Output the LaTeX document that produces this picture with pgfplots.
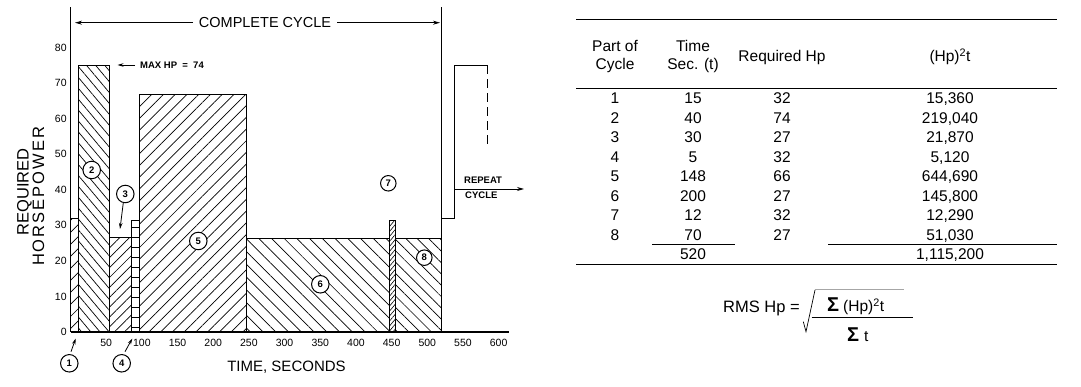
\documentclass[border=0pt]{standalone}
\usepackage{pgfplots}
\pgfplotsset{compat=1.18}
\usepackage{fontspec}
\setmainfont{Liberation Sans}
\newfontfamily\widefont[LetterSpace=12]{Liberation Sans}
\usetikzlibrary{patterns.meta,arrows.meta}
\newcommand{\fs}[1]{\fontsize{#1}{#1}\selectfont}
\begin{document}
\begin{tikzpicture}
\path[use as bounding box] (0,0) rectangle (1081pt,387pt);
\begin{axis}[
  at={(70.5pt,55pt)}, anchor=south west,
  x=0.7136pt, y=3.554pt,
  xmin=0, xmax=614, ymin=0, ymax=91.4,
  axis x line=bottom, axis y line=left,
  axis line style={line width=1.2pt,-},
  xtick={50,100,...,600}, ytick={0,10,...,80},
  major tick length=0pt,
  tick label style={font=\fs{10.5}},
  xticklabel style={anchor=north, inner sep=0pt, yshift=-7.3pt},
  yticklabel style={anchor=east, inner sep=0pt, xshift=-3.7pt},
  /pgf/number format/assume math mode=true,
  clip=false,
]
% bar 1
\addplot[draw=black, line width=1pt, pattern={Lines[angle=45,distance=8.5pt,line width=0.7pt]}] coordinates {(0,0) (0,32) (11,32) (11,0)} --cycle;
% bar 2
\addplot[draw=black, line width=1pt, pattern={Lines[angle=-50,distance=7pt,line width=0.7pt]}] coordinates {(11,0) (11,75) (55,75) (55,0)} --cycle;
% bar 3
\addplot[draw=black, line width=1pt, pattern={Lines[angle=45,distance=7pt,line width=0.7pt]}] coordinates {(55,0) (55,26.6) (86,26.6) (86,0)} --cycle;
% bar 4
\addplot[draw=black, line width=1pt, pattern={Lines[angle=0,distance=10pt,line width=0.7pt]}] coordinates {(86,0) (86,31.5) (97,31.5) (97,0)} --cycle;
% bar 5
\addplot[draw=black, line width=1pt, pattern={Lines[angle=45,distance=8.3pt,line width=0.7pt]}] coordinates {(97,0) (97,66.8) (247,66.8) (247,0)} --cycle;
% bar 6
\addplot[draw=black, line width=1pt, pattern={Lines[angle=-45,distance=9pt,line width=0.7pt]}] coordinates {(247,0) (247,26.2) (447,26.2) (447,0)} --cycle;
% bar 7
\addplot[draw=black, line width=1pt, pattern={Lines[angle=50,distance=3.2pt,line width=0.6pt]}] coordinates {(447,0) (447,31.3) (455,31.3) (455,0)} --cycle;
% bar 8
\addplot[draw=black, line width=1pt, pattern={Lines[angle=-45,distance=8pt,line width=0.7pt]}] coordinates {(455,0) (455,26.2) (520,26.2) (520,0)} --cycle;
% cycle boundary and repeat
\addplot[black, line width=1.2pt] coordinates {(520,0) (520,91.4)};
\addplot[black, line width=1pt] coordinates {(520,32) (538.8,32) (538.8,75) (585,75)};
\addplot[black, line width=1pt, dash pattern=on 9pt off 5pt] coordinates {(585,75) (585,52)};
\end{axis}
\begin{scope}[x=1pt,y=-1pt,yshift=387pt]
% axis titles
\node[font=\fs{15}, inner sep=0pt] at (286.5,367) {TIME, SECONDS};
\node[font=\fs{16.5}, inner sep=0pt, rotate=90] at (24.5,192) {REQUIRED};
\node[font=\widefont\fs{16.5}, inner sep=0pt, rotate=90] at (38.5,196.5) {HORSEPOWER};
% complete cycle
\node[font=\fs{14.5}, inner sep=0pt] at (265,23) {COMPLETE CYCLE};
\draw[line width=0.8pt, -{Stealth[length=7pt,width=4pt]}] (193,22.7) -- (75,22.7);
\draw[line width=0.8pt, -{Stealth[length=7pt,width=4pt]}] (337,22.7) -- (440,22.7);
% max hp
\draw[line width=0.8pt, -{Stealth[length=6pt,width=3.5pt]}] (135,65) -- (117.5,65);
\node[font=\fs{9.5}\bfseries, inner sep=0pt, anchor=west] at (140,65) {MAX HP\ \ =\ \ 74};
% repeat
\node[font=\fs{9.5}\bfseries, inner sep=0pt, anchor=west] at (464,180.7) {REPEAT};
\node[font=\fs{9.5}\bfseries, inner sep=0pt, anchor=west] at (465,195) {CYCLE};
\draw[line width=0.8pt, -{Stealth[length=7pt,width=4pt]}] (455,189) -- (524,189);
% circled numbers
\tikzset{cn/.style={circle, draw, line width=1pt, fill=white, inner sep=0pt, minimum size=17.5pt, font=\fs{9.5}\bfseries}}
\node[cn] at (69.3,363.3) {1};
\node[cn] at (91.7,170) {2};
\node[cn] at (125.3,194) {3};
\node[cn] at (121.7,363.3) {4};
\node[cn] at (198.3,241) {5};
\node[cn] at (320.3,284.3) {6};
\node[cn, minimum size=15.5pt] at (388.3,183.3) {7};
\node[cn, minimum size=15.5pt] at (424.3,257.7) {8};
\draw[line width=0.8pt, -{Stealth[length=6pt,width=3.5pt]}] (71,351.7) -- (75.7,338.5);
\draw[line width=0.8pt, -{Stealth[length=6pt,width=3.5pt]}] (125,351.7) -- (132.3,338.5);
\draw[line width=0.8pt, -{Stealth[length=6pt,width=3.5pt]}] (123.3,202.7) -- (120,229);
% table
\draw[line width=0.9pt] (576,19) -- (1057,19);
\draw[line width=0.9pt] (576,88.3) -- (1057,88.3);
\draw[line width=0.9pt] (576,264.3) -- (1057,264.3);
\draw[line width=0.9pt] (652,244.3) -- (735,244.3);
\draw[line width=0.9pt] (828,244.3) -- (1057,244.3);
\tikzset{tc/.style={font=\fs{15.5}, inner sep=0pt, anchor=base}}
\node[tc] at (615,51.7) {Part of};
\node[tc] at (615,69.3) {Cycle};
\node[tc] at (693,51.7) {Time};
\node[tc] at (693,69.3) {Sec. (t)};
\node[tc] at (782,61.7) {Required Hp};
\node[tc] at (950,61.7) {(Hp)\textsuperscript{2}t};
\foreach \p/\t/\h/\v [count=\i from 0] in {1/15/32/{15,360},2/40/74/{219,040},3/30/27/{21,870},4/5/32/{5,120},5/148/66/{644,690},6/200/27/{145,800},7/12/32/{12,290},8/70/27/{51,030}}{
  \pgfmathsetmacro{\yy}{104+19.43*\i}
  \node[tc] at (615,\yy) {\p};
  \node[tc] at (693,\yy) {\t};
  \node[tc] at (782,\yy) {\h};
  \node[tc] at (950,\yy) {\v};
}
\node[tc] at (693,260) {520};
\node[tc] at (950,260) {1,115,200};
% formula
\node[font=\fs{16.5}, inner sep=0pt, anchor=base west] at (723,312.5) {RMS Hp =};
\node[font=\fs{20}\bfseries, inner sep=0pt, anchor=base west] at (827,312) {Σ};
\node[font=\fs{15.5}, inner sep=0pt, anchor=base west] at (843,312) {(Hp)\textsuperscript{2}t};
\node[font=\fs{20}\bfseries, inner sep=0pt, anchor=base west] at (847,342) {Σ};
\node[font=\fs{15.5}, inner sep=0pt, anchor=base west] at (864,342) {t};
\draw[line width=0.7pt] (803.3,321.7) -- (806,331.7) -- (815,290);
\draw[line width=0.9pt, gray!70] (815,289.3) -- (904,289.3);
\draw[line width=0.9pt] (811.7,317.3) -- (913.3,317.3);
\end{scope}
\end{tikzpicture}
\end{document}
